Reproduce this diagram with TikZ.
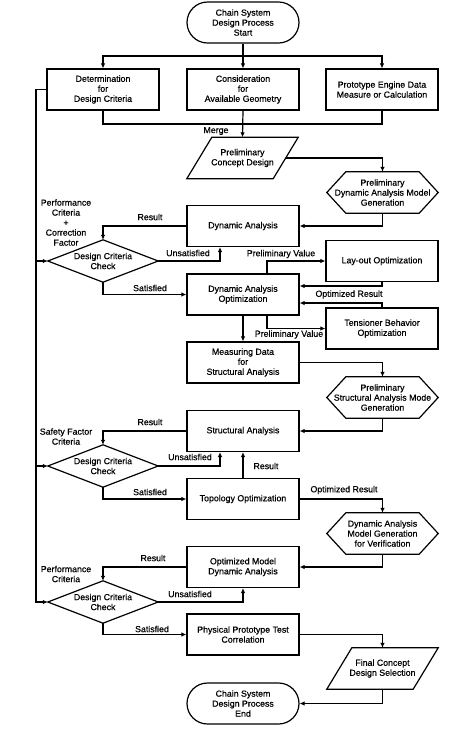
\documentclass[tikz,border=0pt]{standalone}
\usepackage{fontspec}
\setmainfont{Liberation Sans}[FakeBold=0.5]
\usetikzlibrary{arrows.meta,calc}
\begin{document}
\begin{tikzpicture}[x=1pt,y=-1pt,
  every node/.style={font=\fontsize{8.8}{10}\selectfont, align=center, inner sep=0pt},
  box/.style={draw, line width=1.2pt, minimum width=112pt, minimum height=41pt},
  term/.style={draw, line width=1.2pt, rounded corners=20.5pt, minimum width=112pt, minimum height=41pt},
  frame/.style={minimum width=111pt, minimum height=41pt},
  dframe/.style={minimum width=110pt, minimum height=42pt},
  outline/.style={draw, line width=1.2pt, line join=miter},
  conn/.style={line width=1.2pt},
  arr/.style={conn, -{Latex[length=5pt,width=4.5pt]}},
  lbl/.style={font=\fontsize{8.8}{10}\selectfont}
]
\useasboundingbox (0,0) rectangle (474,732);
\fill[white] (0,0) rectangle (474,732);

% nodes
\node[term] (start) at (243,22.5) {Chain System\\Design Process\\Start};
\node[box] (b1) at (103,89.5) {Determination\\for\\Design Criteria};
\node[box] (b2) at (243,89.5) {Consideration\\for\\Available Geometry};
\node[box] (b3) at (382,89.5) {Prototype Engine  Data\\Measure or Calculation};

\node[frame] (pcd) at (242.5,158) {Preliminary\\Concept Design};
\draw[outline] (pcd.south west) -- ([xshift=25pt]pcd.north west) -- (pcd.north east) -- ([xshift=-25pt]pcd.south east) -- cycle;

\node[frame] (hex1) at (382.5,192.5) {Preliminary\\Dynamic Analysis Model\\Generation};
\draw[outline] (hex1.west) -- ([xshift=19pt]hex1.north west) -- ([xshift=-19pt]hex1.north east) -- (hex1.east) -- ([xshift=-19pt]hex1.south east) -- ([xshift=19pt]hex1.south west) -- cycle;

\node[box] (da) at (243,226) {Dynamic Analysis};
\node[dframe] (d1) at (103,261) {Design Criteria\\Check};
\draw[outline] (d1.west) -- (d1.north) -- (d1.east) -- (d1.south) -- cycle;

\node[box] (lay) at (382,261) {Lay-out Optimization};
\node[box] (dao) at (243,294.5) {Dynamic Analysis\\Optimization};
\node[box] (ten) at (382,328.5) {Tensioner Behavior\\Optimization};
\node[box] (mda) at (243,362.5) {Measuring Data\\for\\Structural Analysis};

\node[frame] (hex2) at (382.5,397.5) {Preliminary\\Structural Analysis Mode\\Generation};
\draw[outline] (hex2.west) -- ([xshift=19pt]hex2.north west) -- ([xshift=-19pt]hex2.north east) -- (hex2.east) -- ([xshift=-19pt]hex2.south east) -- ([xshift=19pt]hex2.south west) -- cycle;

\node[box] (sa) at (243,431) {Structural Analysis};
\node[dframe] (d2) at (103,466) {Design Criteria\\Check};
\draw[outline] (d2.west) -- (d2.north) -- (d2.east) -- (d2.south) -- cycle;
\node[box] (topo) at (243,499) {Topology Optimization};

\node[frame] (hex3) at (382.5,533.5) {Dynamic Analysis\\Model Generation\\for Verification};
\draw[outline] (hex3.west) -- ([xshift=19pt]hex3.north west) -- ([xshift=-19pt]hex3.north east) -- (hex3.east) -- ([xshift=-19pt]hex3.south east) -- ([xshift=19pt]hex3.south west) -- cycle;

\node[box] (omda) at (243,567) {Optimized Model\\Dynamic Analysis};
\node[dframe] (d3) at (103,602) {Design Criteria\\Check};
\draw[outline] (d3.west) -- (d3.north) -- (d3.east) -- (d3.south) -- cycle;
\node[box] (phys) at (243,634.5) {Physical Prototype Test\\Correlation};

\node[frame] (fcd) at (382.5,668.5) {Final Concept\\Design Selection};
\draw[outline] (fcd.south west) -- ([xshift=25pt]fcd.north west) -- (fcd.north east) -- ([xshift=-25pt]fcd.south east) -- cycle;

\node[term] (end) at (243,703.5) {Chain System\\Design Process\\End};

% side labels
\node[lbl] (c1) at (66,222.5) {Performance\\Criteria\\+\\Correction\\Factor};
\node[lbl] (c2) at (66,436.5) {Safety Factor\\Criteria};
\node[lbl] (c3) at (66,574) {Performance\\Criteria};

% connectors
\coordinate (split) at (243,56);
\draw[arr] (start.south) -- (b2.north);
\draw[arr] (split) -| (b1.north);
\draw[arr] (split) -| (b3.north);

\coordinate (merge) at (243,124);
\draw[conn] (b1.south) |- (merge);
\draw[conn] (b3.south) |- (merge);
\draw[arr] (b2.south) -- (pcd.north);
\node[lbl] (mergelbl) at (216,131) {Merge};

\draw[arr] ([xshift=-12.5pt]pcd.east) -| (hex1.north);
\draw[arr] (hex1.south) |- (da.east);

\draw[arr] (da.west) -| (d1.north);
\node[lbl] (r1) at (150,217) {Result};
\draw[arr] (d1.east) -| ([xshift=-23pt]da.south);
\node[lbl] (u1) at (188,253) {Unsatisfied};
\draw[arr] (d1.south) |- (dao.west);
\node[lbl] (s1) at (150,288) {Satisfied};

\draw[arr] ([xshift=24pt]dao.north) |- (lay.west);
\node[lbl] (pv1) at (281,254) {Preliminary Value};
\draw[arr] (lay.south) |- ([yshift=8.5pt]dao.east);
\draw[arr] (ten.north) |- ([yshift=-8.5pt]dao.east);
\node[lbl] (or1) at (349,294.5) {Optimized Result};
\draw[arr] ([xshift=24pt]dao.south) |- (ten.west);
\node[lbl] (pv2) at (289,334.5) {Preliminary Value};
\draw[arr] (dao.south) -- (mda.north);

\draw[arr] (mda.east) -| (hex2.north);
\draw[arr] (hex2.south) |- (sa.east);
\draw[arr] (sa.west) -| (d2.north);
\node[lbl] (r2) at (150,422) {Result};
\draw[arr] (d2.east) -| ([xshift=-23pt]sa.south);
\node[lbl] (u2) at (190,457) {Unsatisfied};
\draw[arr] (d2.south) |- (topo.west);
\node[lbl] (s2) at (150,492) {Satisfied};
\draw[arr] (topo.north) -- (sa.south);
\node[lbl] (r3) at (266,466) {Result};
\draw[arr] (topo.east) -| (hex3.north);
\node[lbl] (or2) at (344,490) {Optimized Result};

\draw[arr] (hex3.south) |- (omda.east);
\draw[arr] (omda.west) -| (d3.north);
\node[lbl] (r4) at (153,558) {Result};
\draw[arr] (d3.east) -| (omda.south);
\node[lbl] (u3) at (190,594) {Unsatisfied};
\draw[arr] (d3.south) |- (phys.west);
\node[lbl] (s3) at (152,629) {Satisfied};

\draw[arr] (phys.east) -| (fcd.north);
\draw[arr] (fcd.south) |- (end.east);

% left feedback line
\coordinate (lx) at (36,0);
\draw[arr] (b1.west) -| (lx |- d3.west) -- (d3.west);
\draw[arr] (lx |- d1.west) -- (d1.west);
\draw[arr] (lx |- d2.west) -- (d2.west);
\end{tikzpicture}
\end{document}
